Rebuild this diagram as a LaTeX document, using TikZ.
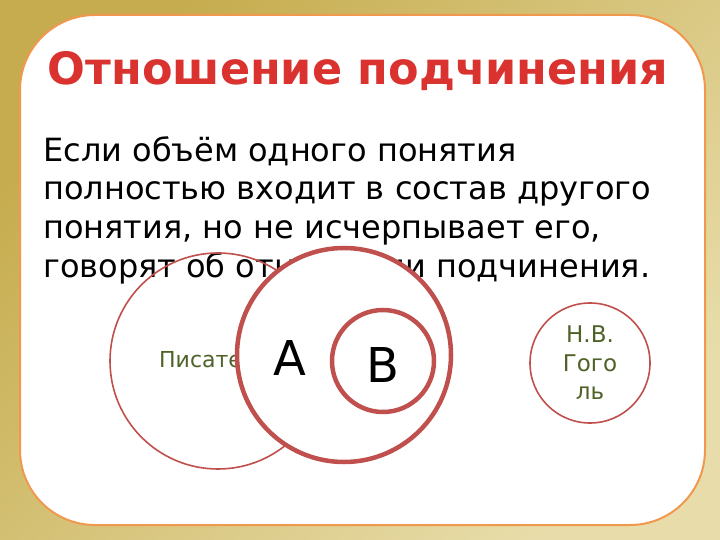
\documentclass[tikz,border=0pt]{standalone}
\usepackage{fontspec}
\setmainfont{DejaVu Sans}
\definecolor{bgA}{HTML}{C6AC4E}
\definecolor{bgD}{HTML}{E8DDAA}
\definecolor{frame}{HTML}{F0984E}
\definecolor{titlered}{HTML}{DA322E}
\definecolor{ring}{HTML}{C0504D}
\definecolor{olive}{HTML}{4F6228}
\begin{document}
\begin{tikzpicture}[x=1pt,y=-1pt,
  bodyline/.style={anchor=base west,inner sep=0pt,font=\fontsize{32}{38}\selectfont},
  thinring/.style={draw=ring,line width=1.6pt},
  thickring/.style={draw=ring,line width=4.5pt,fill=white},
  biglabel/.style={font=\fontsize{48}{50}\selectfont,inner sep=0pt},
  smalllabel/.style={text=olive,font=\fontsize{22}{29}\selectfont,inner sep=0pt}]
\useasboundingbox (0,0) rectangle (720,540);
\shade[top color=bgA,bottom color=bgD,shading angle=45] (0,0) rectangle (720,540);
\draw[draw=frame,line width=2pt,fill=white,rounded corners=75pt] (20,15) rectangle (705,525);
\node[anchor=base,inner sep=0pt,text=titlered,font=\fontsize{44.5}{50}\selectfont\bfseries] (title) at (358,85) {Отношение подчинения};
\node[bodyline] (l1) at (43,162) {Если объём одного понятия};
\node[bodyline] (l2) at (43,200) {полностью входит в состав другого};
\node[bodyline] (l3) at (43,239) {понятия, но не исчерпывает его,};
\node[bodyline] (l4) at (43,277) {говорят об отношении подчинения.};
\draw[thinring] (218,361) circle[radius=108];
\node[smalllabel,anchor=base west] (pis) at (159,367) {Писатели};
\draw[thickring] (344,355) circle[radius=107];
\node[biglabel] (A) at (290,358) {A};
\draw[thickring] (383,361) circle[radius=51];
\node[biglabel] (B) at (383,365) {B};
\node[circle,thinring,minimum size=120pt,inner sep=0pt,align=center,text=olive,font=\fontsize{23}{28.5}\selectfont] (gogol) at (590,363) {Н.В.\\Гого\\ль};
\end{tikzpicture}
\end{document}
